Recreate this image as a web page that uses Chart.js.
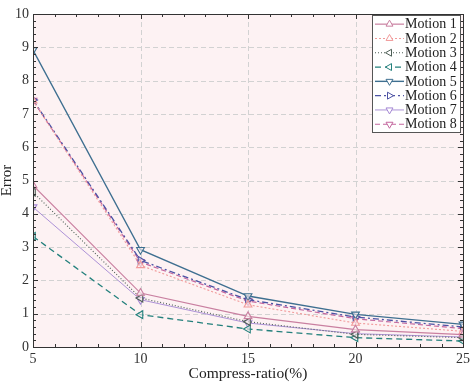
<!DOCTYPE html>
<html><head><meta charset="utf-8">
<script src="https://cdn.jsdelivr.net/npm/chart.js@4/dist/chart.umd.min.js"></script>
<style>html,body{margin:0;padding:0;background:#fff}#wrap{width:474px;height:382px}</style>
</head><body><div id="wrap"><canvas id="c" width="474" height="382"></canvas></div>
<script>
const ratios = [5, 10, 15, 20, 25];
const seriesNames = ['Motion 1','Motion 2','Motion 3','Motion 4','Motion 5','Motion 6','Motion 7','Motion 8'];
const motion1 = [4.85, 1.62, 0.92, 0.52, 0.37];
const motion2 = [7.40, 2.45, 1.27, 0.72, 0.47];
const motion3 = [4.65, 1.47, 0.76, 0.38, 0.28];
const motion4 = [3.32, 0.97, 0.54, 0.28, 0.18];
const motion5 = [8.92, 2.92, 1.53, 0.98, 0.68];
const motion6 = [7.42, 2.60, 1.42, 0.90, 0.60];
const motion7 = [4.20, 1.42, 0.72, 0.40, 0.30];
const motion8 = [7.40, 2.55, 1.38, 0.85, 0.55];
const xTicks = [5, 10, 15, 20, 25];
const yTicks = [0,1,2,3,4,5,6,7,8,9,10];

const values = [motion1, motion2, motion3, motion4, motion5, motion6, motion7, motion8];
const styles = [
  {c:'#c97fa0', dash:[], rot:0, w:1.2},
  {c:'#f19a9a', dash:[2,2], rot:0, w:1.1},
  {c:'#4d5e55', dash:[1,2], rot:-90, w:1.1},
  {c:'#23807c', dash:[6,4], rot:-90, w:1.3},
  {c:'#3e6f90', dash:[], rot:180, w:1.4},
  {c:'#4c52a4', dash:[6,3,2,3], rot:90, w:1.3},
  {c:'#a487d4', dash:[], rot:180, w:0.9},
  {c:'#c4679e', dash:[5,3], rot:180, w:1.2}
];
const datasets = values.map((v,i)=>({
  label: seriesNames[i],
  data: v.map((y,j)=>({x: ratios[j], y})),
  borderColor: styles[i].c,
  borderWidth: styles[i].w,
  borderDash: styles[i].dash,
  pointStyle: 'triangle',
  pointRotation: styles[i].rot,
  pointRadius: 4.5,
  pointBorderWidth: 1.1,
  pointBorderColor: styles[i].c,
  pointBackgroundColor: 'rgba(253,243,244,0.6)',
  tension: 0,
  fill: false
}));

const SERIF = '"Liberation Serif", "DejaVu Serif", serif';

const frame = {
  id: 'frame',
  beforeDraw(chart){
    const {ctx, chartArea:a, scales:{x,y}} = chart;
    ctx.save();
    ctx.fillStyle = '#fdf2f3';
    ctx.fillRect(a.left, a.top, a.right-a.left, a.bottom-a.top);
    ctx.strokeStyle = '#d2d2d2';
    ctx.lineWidth = 1;
    ctx.setLineDash([5,3]);
    xTicks.forEach(t=>{ if(t===x.min||t===x.max) return; const px=Math.round(x.getPixelForValue(t))+0.5; ctx.beginPath(); ctx.moveTo(px,a.top); ctx.lineTo(px,a.bottom); ctx.stroke(); });
    yTicks.forEach(t=>{ if(t===y.min||t===y.max) return; const py=Math.round(y.getPixelForValue(t))+0.5; ctx.beginPath(); ctx.moveTo(a.left,py); ctx.lineTo(a.right,py); ctx.stroke(); });
    ctx.restore();
  },
  afterDraw(chart){
    const {ctx, chartArea:a, scales:{x,y}} = chart;
    ctx.save();
    ctx.strokeStyle = '#333';
    ctx.lineWidth = 1;
    ctx.setLineDash([]);
    ctx.strokeRect(Math.round(a.left)+0.5, Math.round(a.top)+0.5, Math.round(a.right-a.left), Math.round(a.bottom-a.top));
    for(let v=x.min; v<=x.max+1e-9; v+=1){
      const major = Math.abs(v/5-Math.round(v/5))<1e-6;
      const len = major?5:3;
      const px = Math.round(x.getPixelForValue(v))+0.5;
      ctx.beginPath();
      ctx.moveTo(px,a.bottom); ctx.lineTo(px,a.bottom-len);
      ctx.moveTo(px,a.top); ctx.lineTo(px,a.top+len);
      ctx.stroke();
    }
    for(let k=0;k<=50;k++){
      const v=k*0.2;
      const major = k%5===0;
      const len = major?5:3;
      const py = Math.round(y.getPixelForValue(v))+0.5;
      ctx.beginPath();
      ctx.moveTo(a.left,py); ctx.lineTo(a.left+len,py);
      ctx.moveTo(a.right,py); ctx.lineTo(a.right-len,py);
      ctx.stroke();
    }
    // legend
    const rowH = 14.3, bw = 88, bh = rowH*seriesNames.length + 3;
    const bx = a.right - bw - 3, by = a.top + 1;
    ctx.fillStyle = '#fff';
    ctx.fillRect(bx, by, bw, bh);
    ctx.strokeStyle = '#555';
    ctx.strokeRect(Math.round(bx)+0.5, Math.round(by)+0.5, bw, Math.round(bh));
    ctx.font = '14px ' + SERIF;
    ctx.textBaseline = 'middle';
    ctx.textAlign = 'left';
    chart.data.datasets.forEach((ds,i)=>{
      const cy = by + 2 + rowH*(i+0.5);
      const lx0 = bx+3, lx1 = bx+32;
      ctx.strokeStyle = ds.borderColor;
      ctx.lineWidth = ds.borderWidth;
      ctx.setLineDash(ds.borderDash);
      ctx.beginPath(); ctx.moveTo(lx0,cy); ctx.lineTo(lx1,cy); ctx.stroke();
      ctx.setLineDash([]);
      ctx.fillStyle = '#fff';
      ctx.strokeStyle = ds.borderColor;
      ctx.lineWidth = 1;
      Chart.helpers.drawPoint(ctx, {pointStyle:'triangle', rotation: ds.pointRotation, radius: 4, borderWidth: 1}, (lx0+lx1)/2, cy);
      ctx.fillStyle = '#222';
      ctx.fillText(ds.label, lx1+1, cy+0.5);
    });
    ctx.restore();
  }
};

new Chart(document.getElementById('c'), {
  type: 'line',
  data: { datasets },
  options: {
    responsive: false,
    animation: false,
    devicePixelRatio: 1,
    layout: { padding: { left: 0, right: 10, top: 14, bottom: 0 } },
    plugins: { legend: { display: false }, tooltip: { enabled: false } },
    scales: {
      x: {
        type: 'linear', min: 5, max: 25,
        afterBuildTicks: s => { s.ticks = xTicks.map(v=>({value:v})); },
        grid: { display: false, drawTicks: false }, border: { display: false },
        ticks: { color: '#333', padding: 4, font: { family: SERIF, size: 14 }, maxRotation: 0 },
        title: { display: true, text: 'Compress-ratio(%)', color: '#222', padding: { top: 0, bottom: 0 }, font: { family: SERIF, size: 15.5, lineHeight: 1 } },
        afterFit: s => { s.height = 35; }
      },
      y: {
        type: 'linear', min: 0, max: 10,
        afterBuildTicks: s => { s.ticks = yTicks.map(v=>({value:v})); },
        grid: { display: false, drawTicks: false }, border: { display: false },
        ticks: { color: '#333', padding: 4, font: { family: SERIF, size: 14 } },
        title: { display: true, text: 'Error', color: '#222', padding: { top: 0, bottom: 0 }, font: { family: SERIF, size: 15, lineHeight: 1 } },
        afterFit: s => { s.width = 33; }
      }
    }
  },
  plugins: [frame]
});
</script></body></html>
